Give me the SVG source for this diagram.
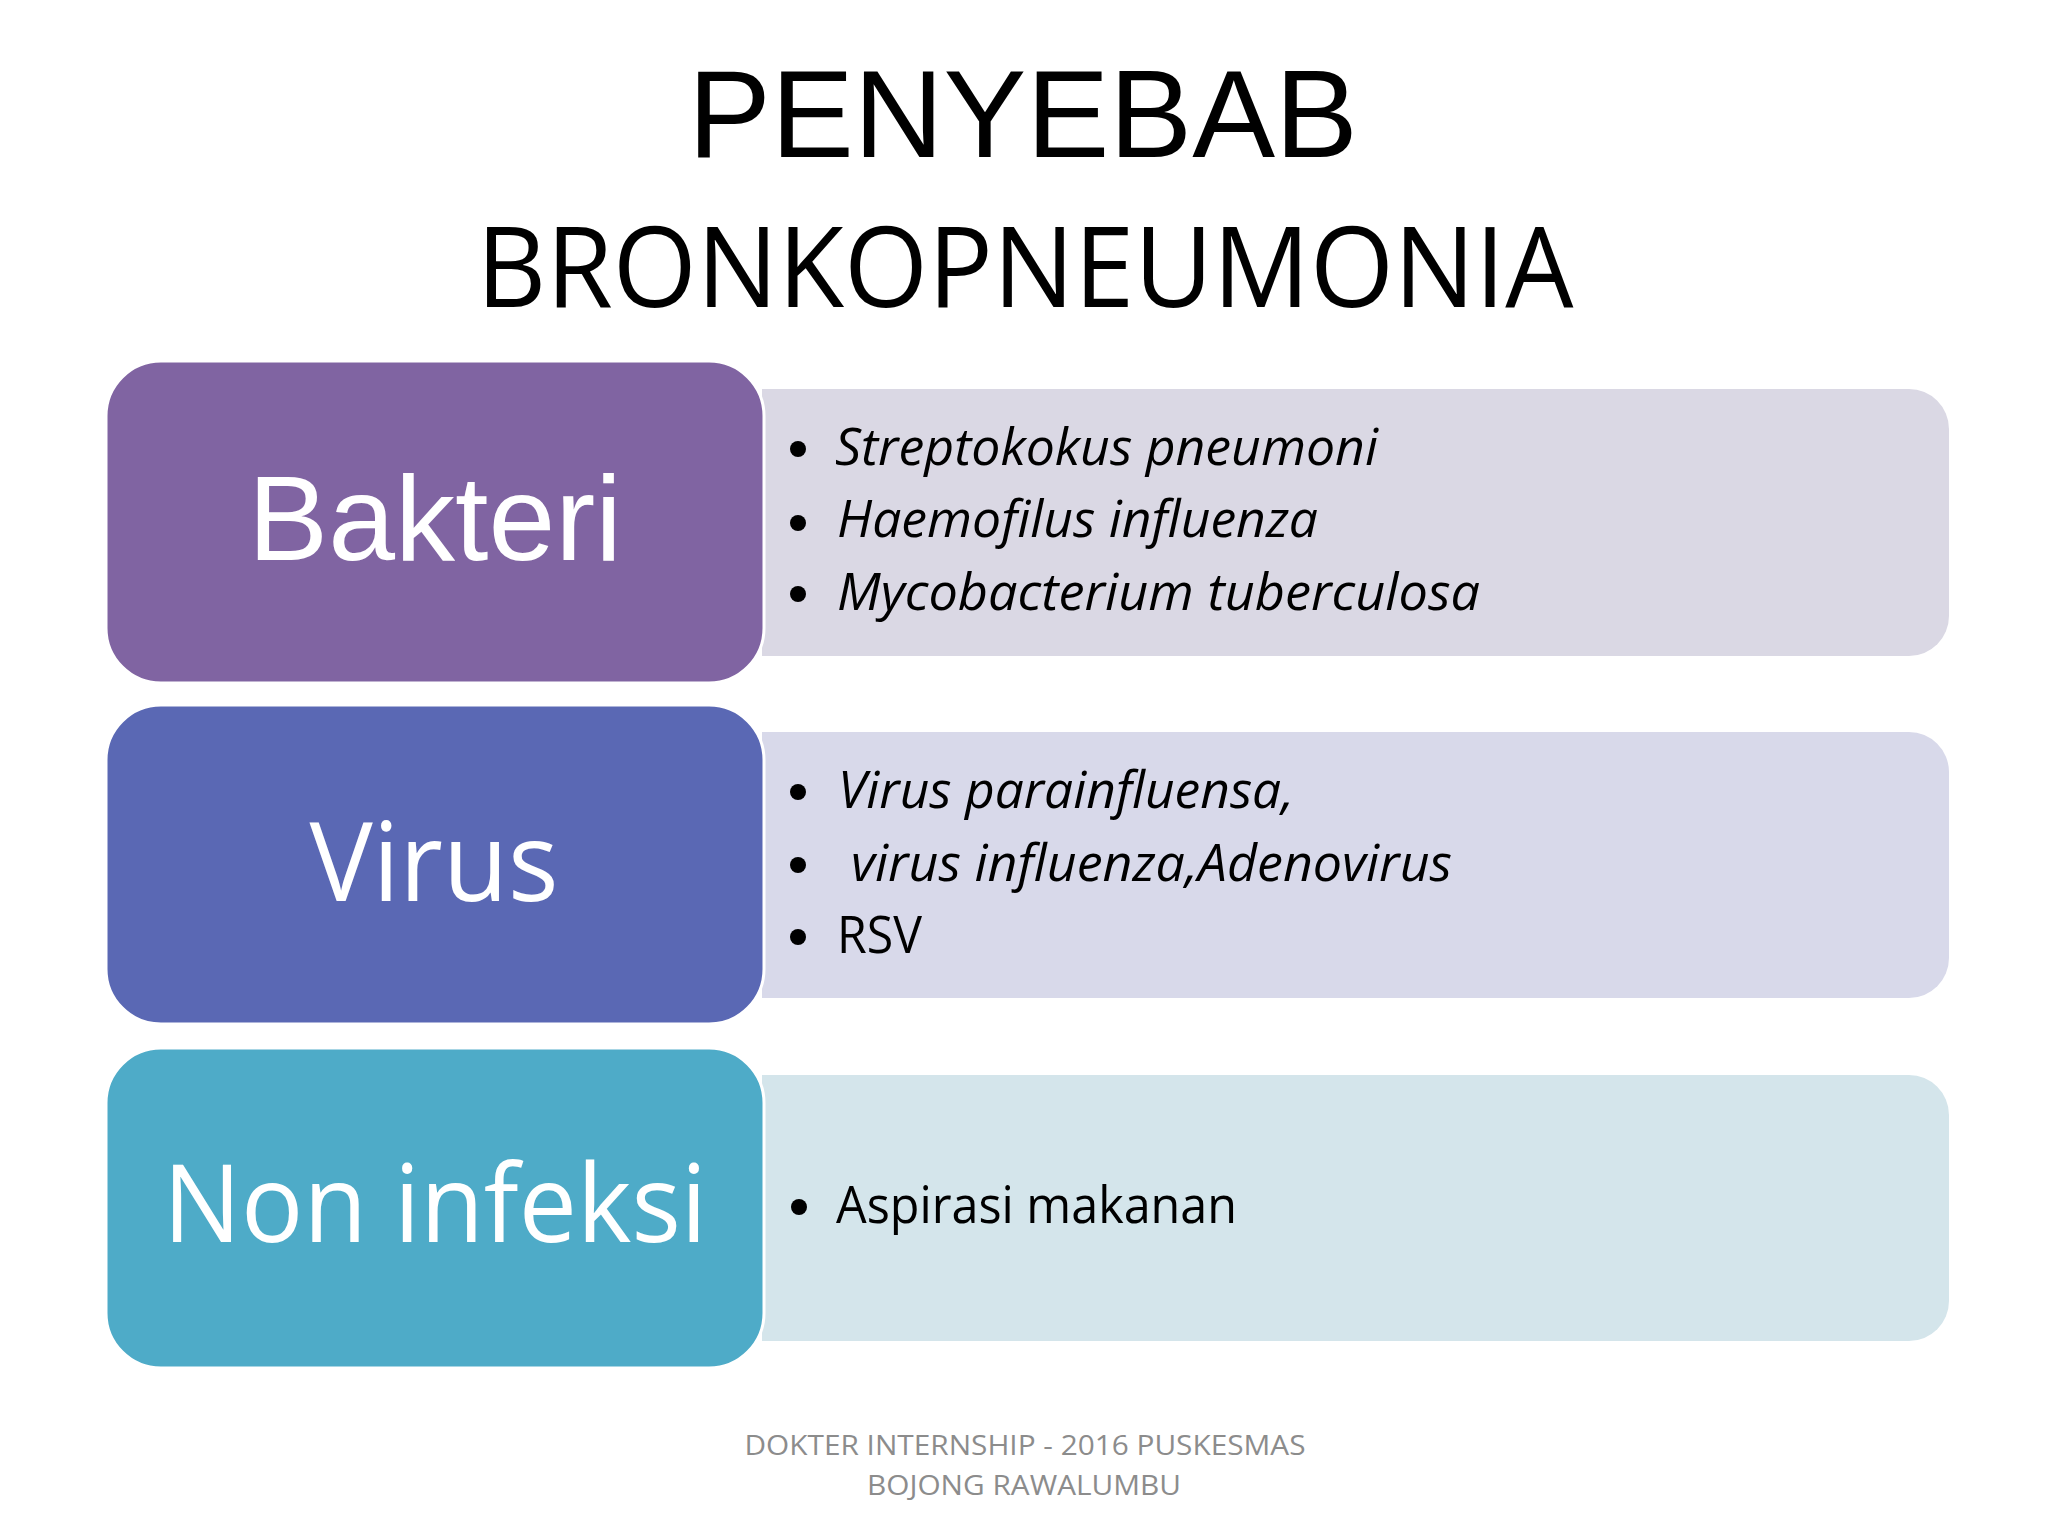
<svg xmlns="http://www.w3.org/2000/svg" width="2048" height="1536" viewBox="0 0 2048 1536">
<style>
.title{font-family:"Liberation Sans",Arial,sans-serif;fill:#000}
.title2{font-family:"Open Sans","Noto Sans",sans-serif;fill:#000}
.lbl{fill:#fff;text-anchor:middle}
.arial{font-family:"Liberation Sans",Arial,sans-serif}
.os{font-family:"Open Sans","Noto Sans",sans-serif}
.item{font-family:"Open Sans","Noto Sans",sans-serif;font-size:52px;fill:#000}
.it{font-style:italic}
.box{stroke:#fff;stroke-width:3}
.foot{font-family:"Open Sans","Noto Sans",sans-serif;font-size:28px;fill:#8c8c8c;text-anchor:middle}
</style>
<rect width="2048" height="1536" fill="#fff"/>
<g id="title">
<text class="title" x="1023" y="157" font-size="124" text-anchor="middle" textLength="670" lengthAdjust="spacingAndGlyphs">PENYEBAB</text>
<text class="title2" x="1025" y="307" font-size="112" text-anchor="middle" textLength="1097" lengthAdjust="spacingAndGlyphs">BRONKOPNEUMONIA</text>
</g>
<g id="bakteri">
<path d="M762,389 H1909 A40,40 0 0 1 1949,429 V616 A40,40 0 0 1 1909,656 H762 Z" fill="#dad8e4"/>
<rect class="box" x="106" y="361" width="658" height="322" rx="55" fill="#8064a2"/>
<text class="lbl arial" x="435" y="560" font-size="120" textLength="374" lengthAdjust="spacingAndGlyphs">Bakteri</text>
<circle cx="798" cy="449" r="8"/><circle cx="798" cy="523" r="8"/><circle cx="798" cy="594" r="8"/>
<text class="item it" x="835" y="465" textLength="543" lengthAdjust="spacingAndGlyphs">Streptokokus pneumoni</text>
<text class="item it" x="837" y="537" textLength="481" lengthAdjust="spacingAndGlyphs">Haemofilus influenza</text>
<text class="item it" x="837" y="610" textLength="643" lengthAdjust="spacingAndGlyphs">Mycobacterium tuberculosa</text>
</g>
<g id="virus">
<path d="M762,732 H1909 A40,40 0 0 1 1949,772 V958 A40,40 0 0 1 1909,998 H762 Z" fill="#d8d9ea"/>
<rect class="box" x="106" y="705" width="658" height="319" rx="55" fill="#5a68b4"/>
<text class="lbl os" x="434" y="901" font-size="109" textLength="249" lengthAdjust="spacingAndGlyphs">Virus</text>
<circle cx="798" cy="792" r="8"/><circle cx="798" cy="865" r="8"/><circle cx="798" cy="937" r="8"/>
<text class="item it" x="838" y="808" textLength="456" lengthAdjust="spacingAndGlyphs">Virus parainfluensa,</text>
<text class="item it" x="851" y="881" textLength="601" lengthAdjust="spacingAndGlyphs">virus influenza,Adenovirus</text>
<text class="item" x="837" y="953" textLength="85" lengthAdjust="spacingAndGlyphs">RSV</text>
</g>
<g id="non-infeksi">
<path d="M762,1075 H1909 A40,40 0 0 1 1949,1115 V1301 A40,40 0 0 1 1909,1341 H762 Z" fill="#d4e5eb"/>
<rect class="box" x="106" y="1048" width="658" height="320" rx="55" fill="#4eabc8"/>
<text class="lbl os" x="435" y="1242" font-size="108" textLength="544" lengthAdjust="spacingAndGlyphs">Non infeksi</text>
<circle cx="799" cy="1207" r="8"/>
<text class="item" x="836" y="1223" textLength="401" lengthAdjust="spacingAndGlyphs">Aspirasi makanan</text>
</g>
<g id="footer">
<text class="foot" x="1025" y="1455" textLength="561" lengthAdjust="spacingAndGlyphs">DOKTER INTERNSHIP - 2016 PUSKESMAS</text>
<text class="foot" x="1024" y="1495" textLength="314" lengthAdjust="spacingAndGlyphs">BOJONG RAWALUMBU</text>
</g>
</svg>
